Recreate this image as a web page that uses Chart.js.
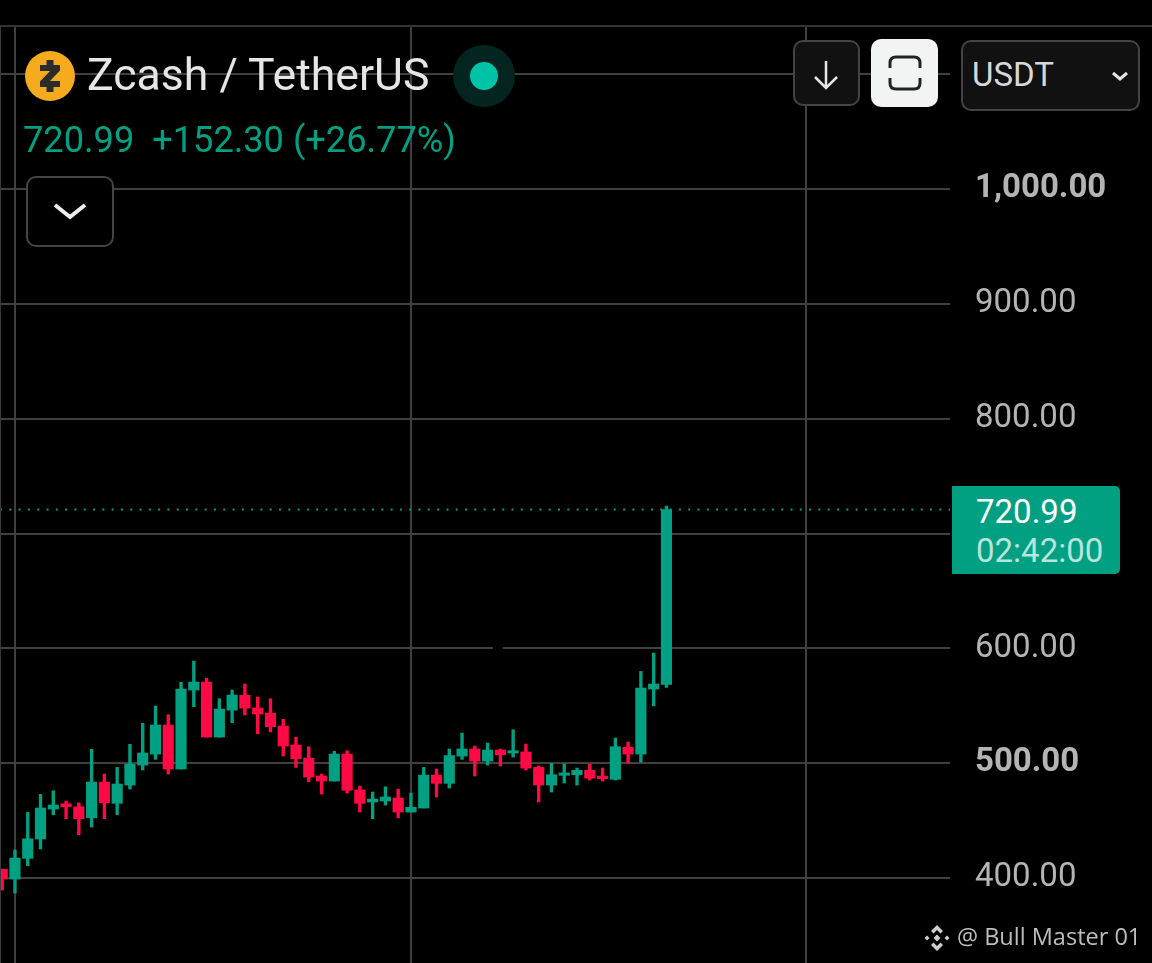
<!DOCTYPE html>
<html>
<head>
<meta charset="utf-8">
<title>Zcash / TetherUS</title>
<script src="https://cdn.jsdelivr.net/npm/chart.js@4/dist/chart.umd.min.js"></script>
<style>
    html, body { margin: 0; padding: 0; background: #000; overflow: hidden; }
    #wrap { position: relative; width: 1152px; height: 963px; font-family: Roboto, sans-serif; }
    #wrap canvas { position: absolute; left: 0; top: 0; }
    .abs { position: absolute; white-space: pre; line-height: 1; }
    .btn { position: absolute; box-sizing: border-box; background: #111; border: 2px solid #444; border-radius: 10px; }
</style>
</head>
<body>
<div id="wrap">
    <canvas id="chart" width="1152" height="963"></canvas>

    <div class="abs" style="left:0;top:25px;width:1152px;height:2px;background:#333"></div>
    <div class="abs" style="left:0;top:26px;width:1px;height:937px;background:#3a3a3a"></div>
    <div class="abs" style="left:493px;top:646px;width:10px;height:4px;background:#000"></div>

    <svg class="abs" style="left:25px;top:51px" width="50" height="50" viewBox="0 0 50 50">
        <circle cx="25" cy="25" r="25" fill="#f6ab1e"/>
        <path d="M21.5 9h7v5h6.500v5.500L25 30h10v6h-6.500v5h-7v-5H15v-5.500L25 20H15v-6h6.500z" fill="#2b2b2b"/>
    </svg>
    <div class="abs" id="title" style="left:87px;top:53px;font-size:44.6px;color:#e6e6e6">Zcash / TetherUS</div>
    <svg class="abs" style="left:453px;top:45px" width="62" height="62" viewBox="0 0 62 62">
        <circle cx="31" cy="31" r="31" fill="#03241f"/>
        <circle cx="31" cy="31" r="14" fill="#00c2a6"/>
    </svg>
    <div class="abs" id="quote" style="left:23px;top:122px;font-size:36.2px;color:#02a082">720.99  +152.30 (+26.77%)</div>

    <div class="btn" style="left:26px;top:176px;width:88px;height:71px;background:#000"></div>
    <svg class="abs" style="left:26px;top:176px" width="88" height="71">
        <path d="M29 29l15 12 15-12" fill="none" stroke="#eee" stroke-width="4"/>
    </svg>

    <div class="btn" style="left:793px;top:40px;width:67px;height:66px"></div>
    <svg class="abs" style="left:793px;top:40px" width="67" height="66">
        <path d="M33 21v26M22 37l11 11 11-11" fill="none" stroke="#e6e6e6" stroke-width="2.500"/>
    </svg>
    <div class="btn" style="left:871px;top:39px;width:67px;height:68px;background:#f2f4f3;border:none"></div>
    <svg class="abs" style="left:871px;top:39px" width="67" height="68">
        <path d="M19 29v-5q0-6 6-6h18q6 0 6 6v5M19 39v5q0 6 6 6h18q6 0 6-6v-5" fill="none" stroke="#222" stroke-width="3"/>
    </svg>
    <div class="btn" style="left:961px;top:40px;width:179px;height:71px"></div>
    <div class="abs" style="left:972px;top:58px;font-size:33px;color:#d8d8d8">USDT</div>
    <svg class="abs" style="left:1110px;top:68px" width="20" height="16">
        <path d="M3 5l7 6 7-6" fill="none" stroke="#e6e6e6" stroke-width="3"/>
    </svg>

    <div class="abs" style="left:952px;top:486px;width:168px;height:88px;background:#02a082;border-radius:0 5px 5px 0"></div>
    <div class="abs" style="left:976px;top:495px;font-size:33px;color:#fff">720.99</div>
    <div class="abs" style="left:976px;top:534px;font-size:33px;color:rgba(255,255,255,.72)">02:42:00</div>

    <svg class="abs" style="left:923px;top:924px" width="28" height="28" viewBox="0 0 28 28" fill="#cfcfcf">
        <path d="M14 1l6 6-2.500 2.500L14 6 10.500 9.500 8 7zM14 27l6-6-2.500-2.500L14 22l-3.500-3.500L8 21zM14 10.500l3.500 3.500-3.500 3.500-3.500-3.500zM4 11.500l2.500 2.500L4 16.500 1.500 14zM24 11.500l2.500 2.500-2.500 2.500-2.500-2.500z"/>
    </svg>
    <div class="abs" style="left:957px;top:925px;font-family:'Open Sans',sans-serif;font-size:23.5px;color:#bdbdbd">@ Bull Master 01</div>
</div>

<script>
// Candles, oldest first
const opens = [407.6, 399.1, 417.2, 434, 460.1, 464.7, 462.1, 452.5, 483.6, 465.1, 481, 498.4, 508, 533.3, 495, 563.8, 570.7, 522.8, 546.3, 559.2, 548.1, 543.7, 532.4, 515.9, 504.5, 488.9, 484.5, 508, 476.7, 466.2, 467.1, 469.7, 457.5, 461, 489.7, 482.5, 506.3, 512.4, 501.9, 511.5, 508.9, 509.8, 496.4, 481, 489.5, 490, 493.8, 488.9, 486, 513.9, 508, 564.6, 568.69];
const highs = [407.8, 424.4, 457.2, 472.9, 476, 467.1, 465.6, 512.1, 490.6, 496.4, 516.5, 534.8, 549.8, 542.3, 570.5, 589, 574, 556.2, 563.8, 569, 557.7, 556.2, 538.2, 522.8, 514.4, 490.6, 510.4, 510.9, 480.1, 474.9, 479.5, 477.5, 474, 496.4, 495, 512.4, 526.3, 515, 517.6, 512.4, 529.2, 516.7, 497.6, 499.9, 499.3, 495.8, 499.3, 495.8, 522, 518.5, 580, 596, 724];
const lows = [389.5, 386.9, 410.7, 425.3, 455.1, 451.7, 437.7, 444.4, 451.7, 455.1, 477.5, 494.1, 503.4, 490.6, 495, 549.2, 522.8, 522.8, 535.3, 542, 525.7, 527.2, 506.3, 496.4, 483.9, 473.2, 484.5, 474, 457.5, 451.7, 463.6, 452.5, 457.5, 461, 470.6, 478.4, 503.4, 488.9, 498.4, 497.6, 505.4, 494.1, 466.2, 474.9, 482.8, 481, 485.4, 484.5, 485.4, 499.9, 501, 550, 566];
const closes = [399.1, 417.4, 434.2, 461, 463.6, 462.1, 451.7, 483.6, 465.6, 481.9, 499.3, 508.9, 533.3, 495, 564.6, 570.7, 522.8, 547.2, 559.4, 548.1, 542.9, 531.8, 515, 503.9, 488, 484.5, 508, 476.4, 465.1, 468.8, 470.6, 457.5, 461.6, 489.7, 482.5, 506.7, 512.4, 501.9, 511.5, 507.4, 510.9, 495.8, 481, 490, 491.5, 493.8, 487.1, 486.5, 514.4, 508, 565.5, 569, 720.99];

const lastPrice = 720.99;
const priceTicks = [400, 500, 600, 700, 800, 900, 1000, 1100];
const boldTicks = [500, 1000];
const hiddenTicks = [1100];
const timeGridlines = [1, 32, 62.95];

// Visible window of the two axes
const xMin = -0.172;
const xMax = 74.2;
const yMin = 326;
const yMax = 1142.2;

const UP = '#02a082';
const DOWN = '#ff0a45';
const GRID = '#404040';

const candleColors = opens.map((o, i) => (closes[i] >= o ? UP : DOWN));

new Chart(document.getElementById('chart').getContext('2d'), {
    type: 'bar',
    data: {
        datasets: [
            {
                label: 'Wick',
                data: lows.map((l, i) => ({ x: i, y: [l, highs[i]] })),
                backgroundColor: candleColors,
                barThickness: 2.7,
                grouped: false
            },
            {
                label: 'Body',
                data: opens.map((o, i) => ({ x: i, y: [o, closes[i]] })),
                backgroundColor: candleColors,
                barThickness: 10.5,
                grouped: false
            },
            {
                type: 'line',
                label: 'Last price',
                data: [{ x: xMin, y: lastPrice }, { x: xMax, y: lastPrice }],
                borderColor: UP,
                borderWidth: 2,
                borderDash: [2, 7.3],
                pointRadius: 0
            }
        ]
    },
    options: {
        responsive: false,
        animation: false,
        layout: { padding: { top: 26 } },
        plugins: {
            legend: { display: false },
            tooltip: { enabled: false }
        },
        scales: {
            x: {
                type: 'linear',
                offset: false,
                min: xMin,
                max: xMax,
                afterBuildTicks: scale => {
                    scale.ticks = timeGridlines.map(value => ({ value }));
                },
                afterFit: scale => {
                    scale.height = 0;
                    scale.paddingLeft = 0;
                    scale.paddingRight = 0;
                },
                grid: { color: GRID, lineWidth: 2, drawTicks: false, offset: false },
                border: { display: false },
                ticks: { display: false }
            },
            y: {
                position: 'right',
                min: yMin,
                max: yMax,
                afterBuildTicks: scale => {
                    scale.ticks = priceTicks.map(value => ({ value }));
                },
                afterFit: scale => {
                    // labels may hang over the plot, the axis must not shrink it
                    scale.width = 202;
                    scale.paddingTop = 0;
                    scale.paddingBottom = 0;
                },
                grid: { color: GRID, lineWidth: 2, drawTicks: false },
                border: { display: false },
                ticks: {
                    autoSkip: false,
                    padding: 25,
                    crossAlign: 'near',
                    color: '#b4b4b4',
                    font: ctx => ({
                        family: 'Roboto',
                        size: 33,
                        weight: boldTicks.includes(ctx.tick && ctx.tick.value) ? 'bold' : 'normal'
                    }),
                    callback: value => (hiddenTicks.includes(value) ? '' : value.toLocaleString('en-US', { minimumFractionDigits: 2 }))
                }
            }
        }
    }
});
</script>
</body>
</html>
